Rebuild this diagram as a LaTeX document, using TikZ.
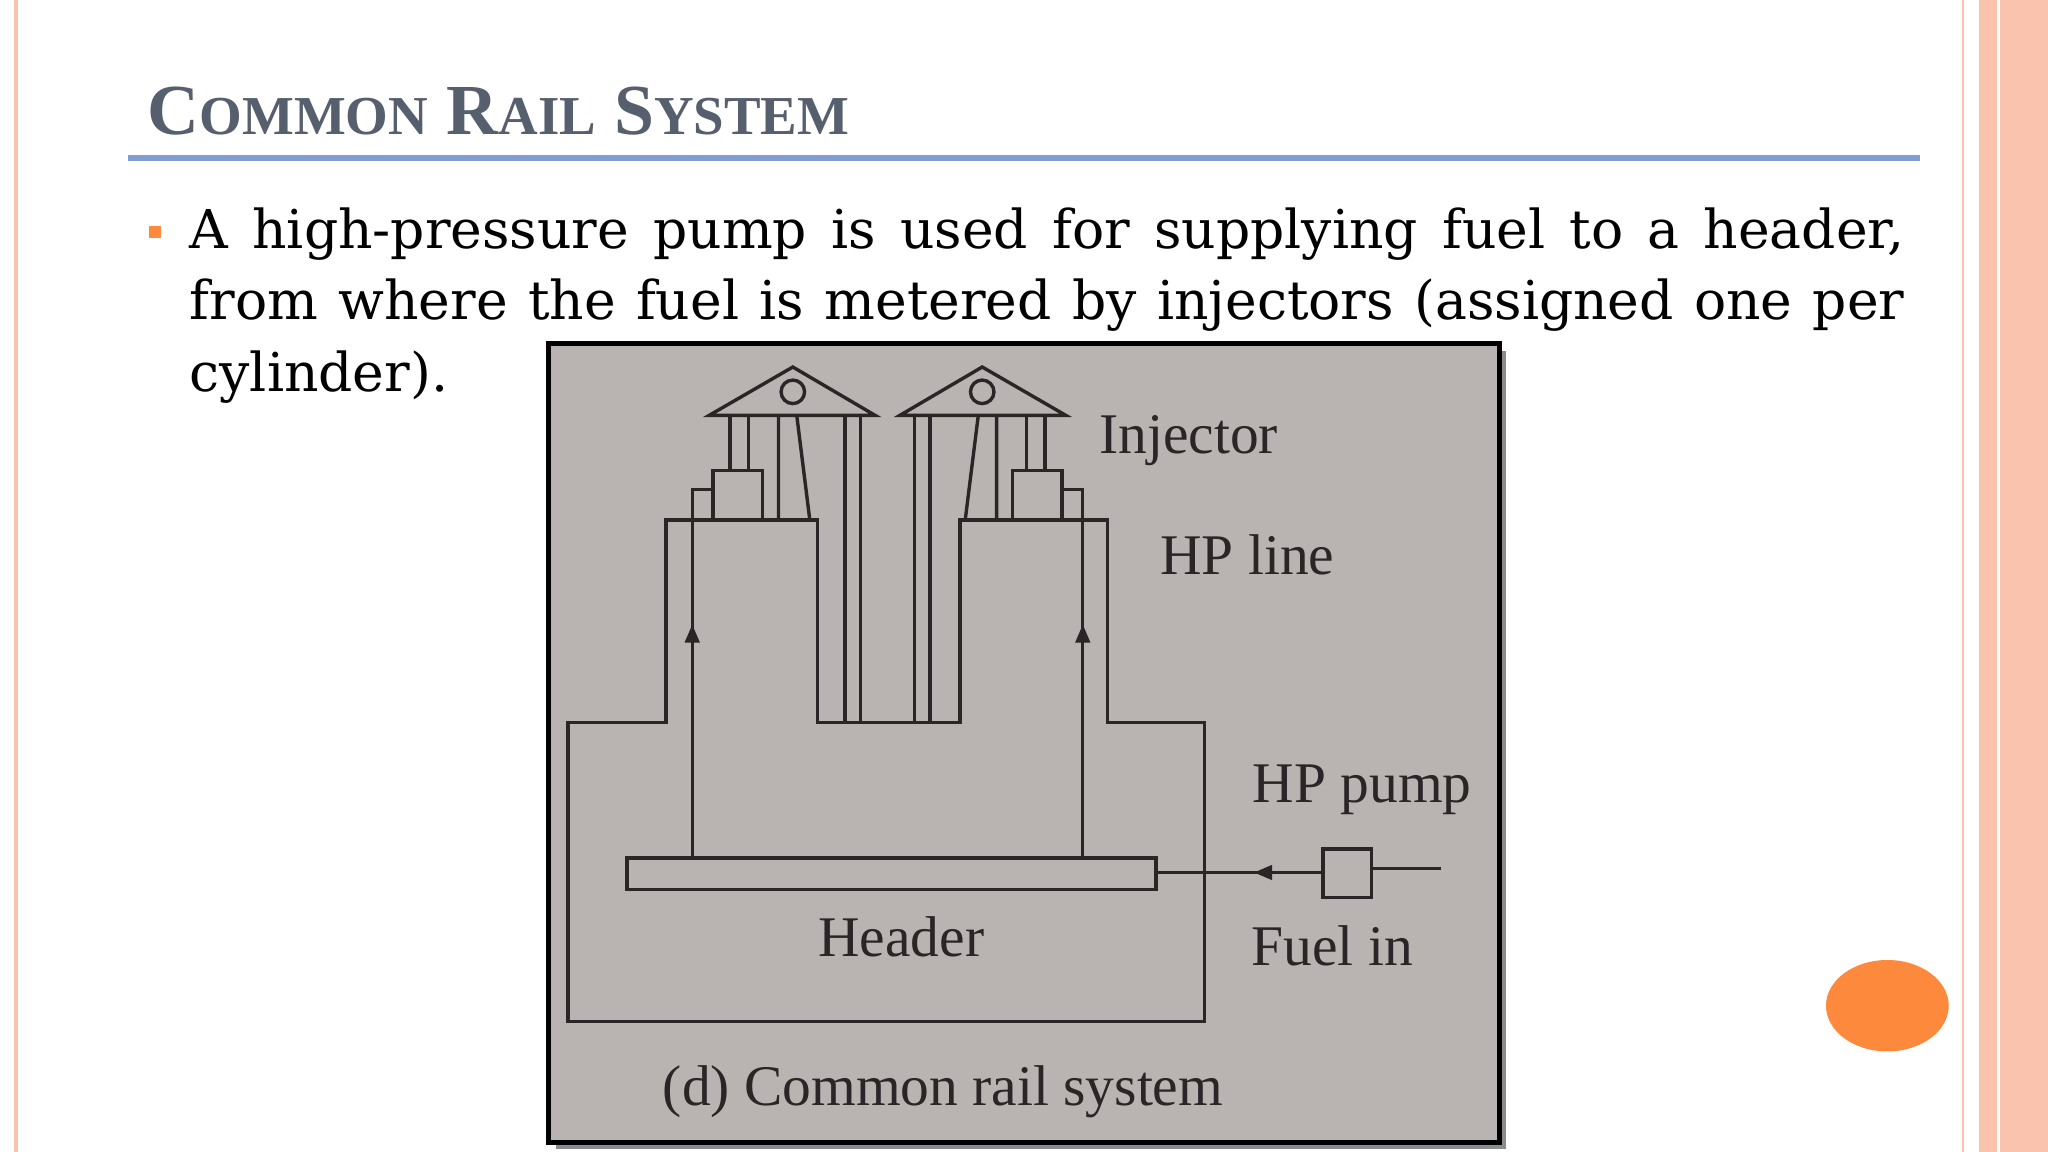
\documentclass[tikz,border=0pt]{standalone}
\usepackage{fontspec}
\setmainfont{Liberation Serif}
\newfontfamily\bodyfont{DejaVu Serif}
\usetikzlibrary{arrows.meta}
\definecolor{paper}{HTML}{B9B4B2}
\definecolor{ink}{HTML}{2A2526}
\definecolor{titlec}{HTML}{565F6E}
\definecolor{rulec}{HTML}{7E9FCF}
\definecolor{pinkc}{HTML}{FAC3AE}
\definecolor{orangec}{HTML}{FD8A3C}
\tikzset{
  dl/.style={draw=ink,line width=2.6pt,line join=miter},
  lab/.style={text=ink,font=\fontsize{44}{48}\selectfont,inner sep=0pt},
  arr/.style={-{Triangle[length=14pt,width=11pt]}},
  bodyline/.style={anchor=base west,inner sep=0pt,font=\bodyfont\fontsize{41}{46}\selectfont}
}
\newcommand{\TBig}[1]{{\fontsize{55}{60}\selectfont #1}}
\newcommand{\TSm}[1]{{\fontsize{42}{46}\selectfont #1}}
\begin{document}
\begin{tikzpicture}[x=1pt,y=-1pt]
\useasboundingbox (0,0) rectangle (1568,882);
\fill[white] (0,0) rectangle (1568,882);
% borders
\fill[pinkc] (1515,0) rectangle (1568,882);
\draw[pinkc,line width=2pt] (1503,0) -- (1503,882);
\draw[white,line width=2pt] (1530,0) -- (1530,882);
\draw[pinkc,line width=3pt] (12,0) -- (12,882);
% title
\node[anchor=base west,inner sep=0pt,text=titlec,font=\bfseries] (title) at (113,103)
  {\TBig{C}\TSm{OMMON}\hspace{14pt}\TBig{R}\TSm{AIL}\hspace{14pt}\TBig{S}\TSm{YSTEM}};
\draw[rulec,line width=4pt] (98,121) -- (1470,121);
% bullet
\fill[orangec] (114,173) rectangle (123,182);
\node[bodyline] (l1) at (145,190)
  {\makebox[1313pt][s]{A high-pressure pump is used for supplying fuel to a header,}};
\node[bodyline] (l2) at (145,245)
  {\makebox[1313pt][s]{from where the fuel is metered by injectors (assigned one per}};
\node[bodyline] (l3) at (145,300) {cylinder).};
% figure frame
\fill[black!45] (426,269) rectangle (1153,880);
\fill[paper] (420,263) rectangle (1148,875);
\draw[black,line width=4pt] (420,263) rectangle (1148,875);
% engine outline
\draw[dl] (435,553) -- (510,553) -- (510,398) -- (626,398) -- (626,553) -- (735,553)
  -- (735,398) -- (848,398) -- (848,553) -- (922,553) -- (922,782) -- (435,782) -- cycle;
% injectors (left, then mirrored)
\foreach \m/\s in {0/1,1359/-1}{
  \begin{scope}[xshift=\m pt, xscale=\s]
    \draw[dl] (543,318) -- (607,281) -- (670,318) -- cycle;
    \draw[dl] (607,300) circle (9);
    \draw[dl] (559,318) -- (559,360) (573,318) -- (573,360);
    \draw[dl] (546,398) rectangle (584,360);
    \draw[dl] (530,398) -- (530,375) -- (546,375);
    \draw[dl] (596,318) -- (596,398) (610,318) -- (620,398);
    \draw[dl] (647,318) -- (647,553) (659,318) -- (659,553);
  \end{scope}
}
% fuel lines with arrows
\draw[dl,arr] (530,657) -- (530,478);
\draw[dl] (530,490) -- (530,398);
\draw[dl,arr] (829,657) -- (829,478);
\draw[dl] (829,490) -- (829,398);
% header
\draw[dl] (480,657) rectangle (885,681);
% pump and supply
\draw[dl] (1013,650) rectangle (1050,687);
\draw[dl,arr] (1013,668) -- (960,668);
\draw[dl] (965,668) -- (885,668);
\draw[dl] (1050,665) -- (1103,665);
% labels
\node[lab] (inj) at (910,337) {Injector};
\node[lab] (hpl) at (955,425) {HP line};
\node[lab] (hpp) at (1043,605) {HP pump};
\node[lab] (fin) at (1020,724) {Fuel in};
\node[lab] (hdr) at (690,717) {Header};
\node[lab] (cap) at (722,836) {(d) Common rail system};
% orange circle
\fill[orangec] (1445,770) ellipse (47 and 35);
\end{tikzpicture}
\end{document}
